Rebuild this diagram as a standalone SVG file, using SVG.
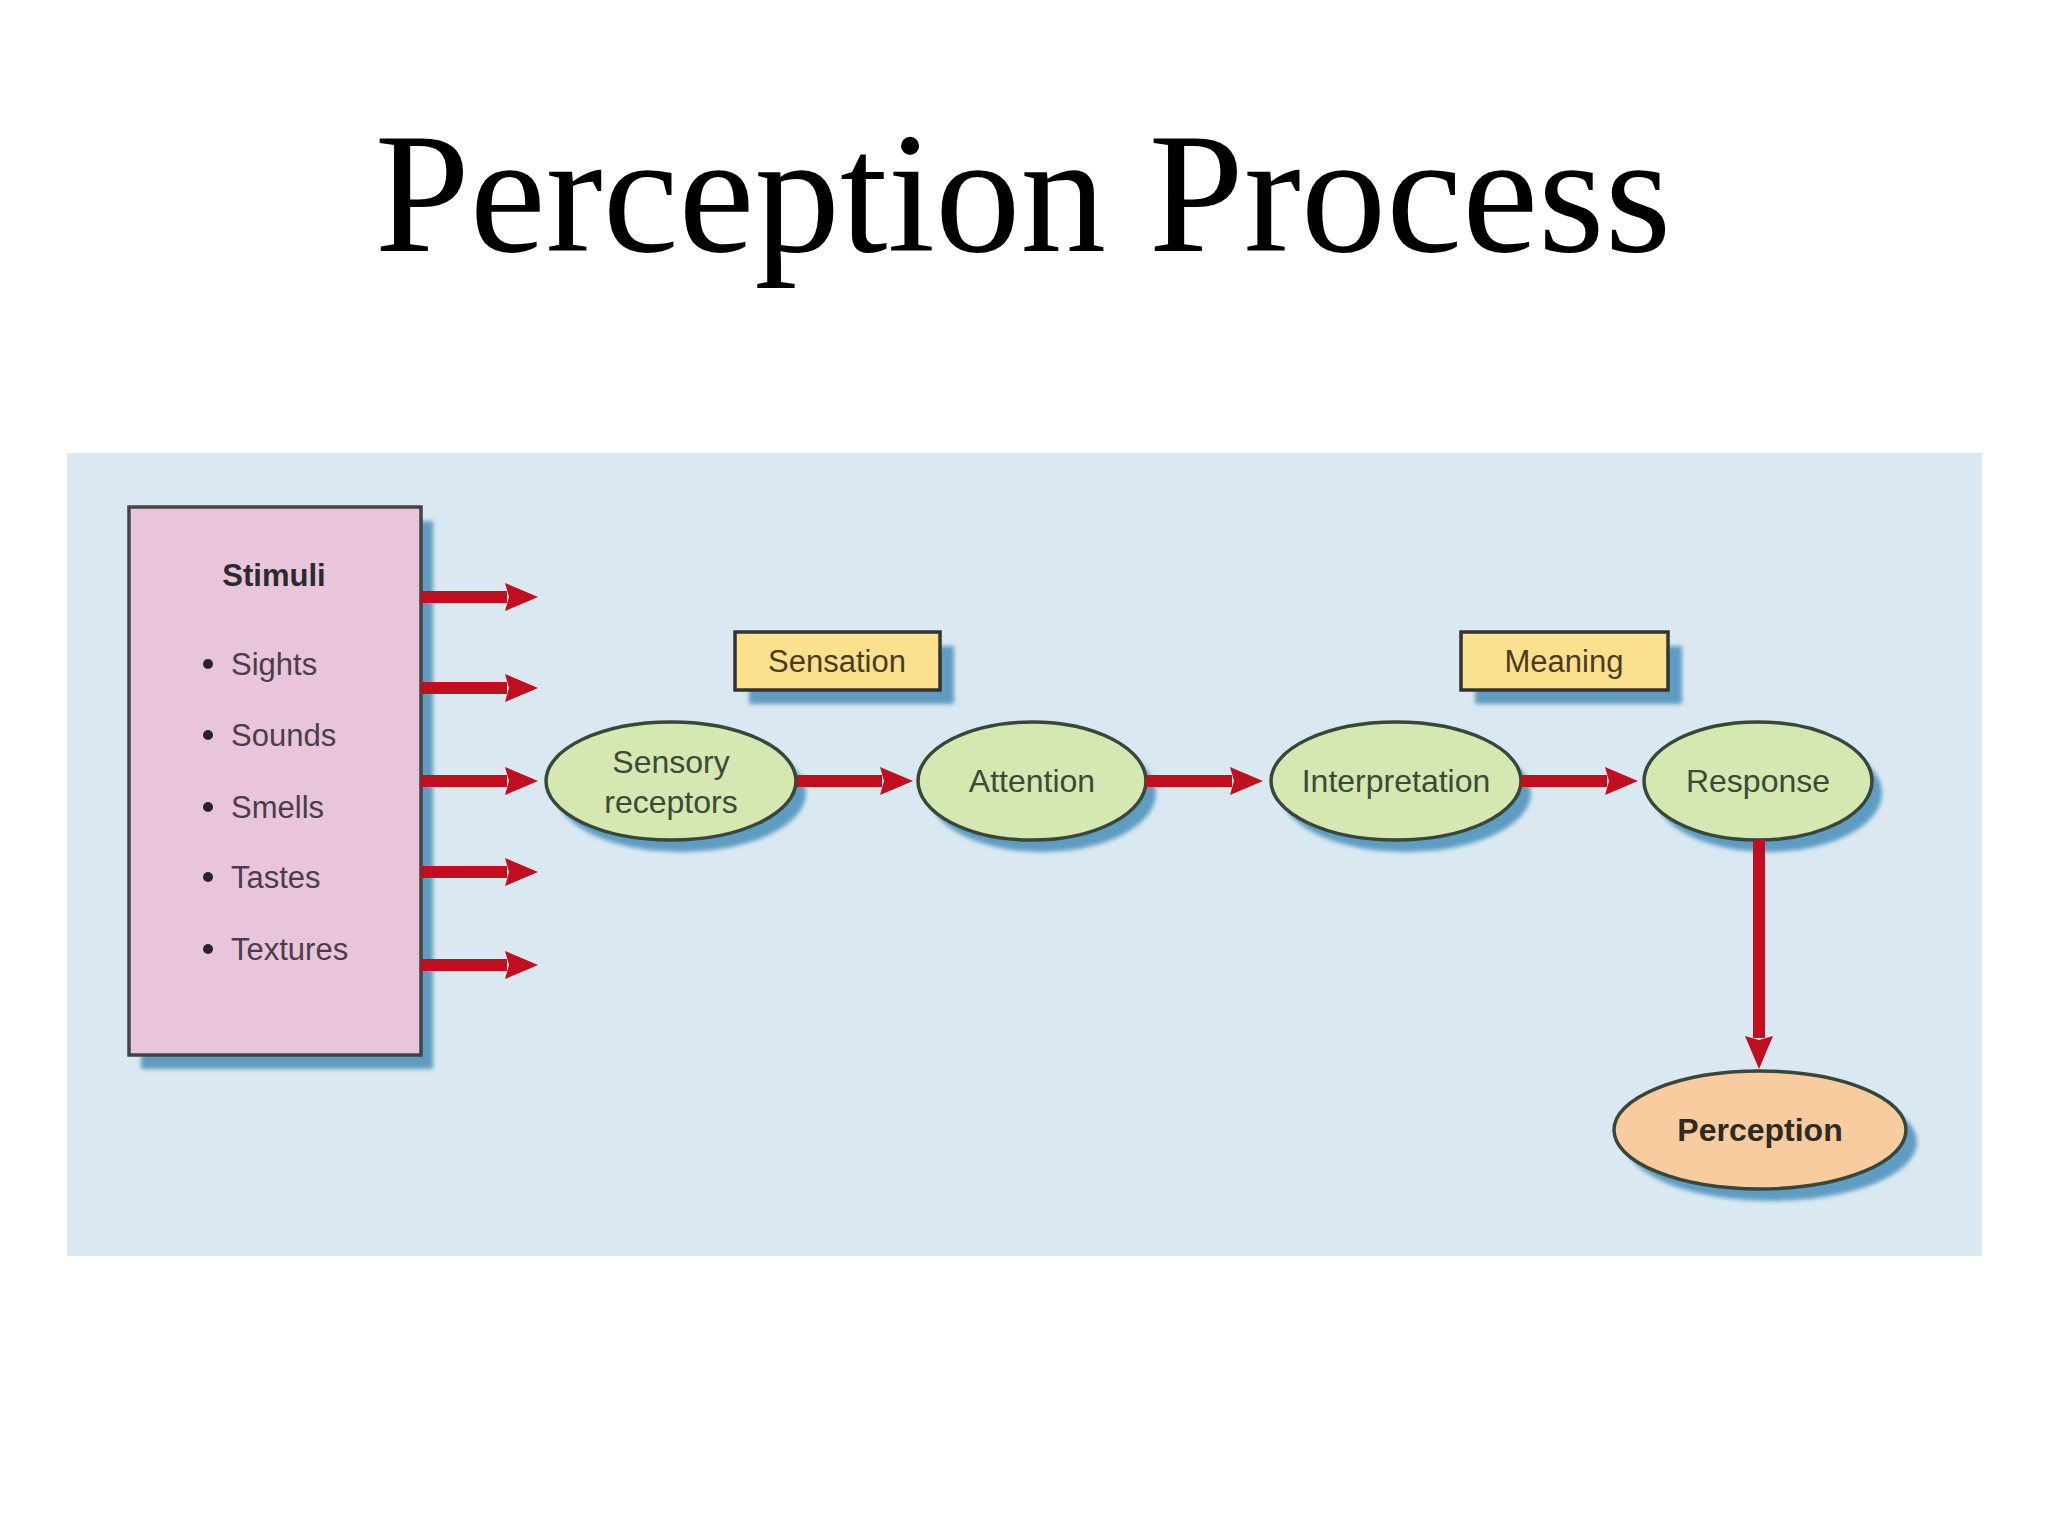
<svg xmlns="http://www.w3.org/2000/svg" width="2048" height="1536" viewBox="0 0 2048 1536">
<defs>
<style>
.title{font-family:"Liberation Serif","Times New Roman",serif;font-size:171px;fill:#000}
.lbl{font-family:"Liberation Sans",Arial,sans-serif;font-size:32px;text-anchor:middle}
.item{font-family:"Liberation Sans",Arial,sans-serif;font-size:31px;fill:#4b3d4a}
.node{fill:#d6e8b2;stroke:#39463a;stroke-width:3.5}
.shadow{fill:#5f9cc2;filter:url(#blur)}
.tag{fill:#fbe08e;stroke:#333;stroke-width:3.5}
.conn{stroke:#c20f1f;stroke-width:12;fill:none;marker-end:url(#ah)}
</style>
<filter id="blur" x="-10%" y="-10%" width="120%" height="120%"><feGaussianBlur stdDeviation="2"/></filter>
<marker id="ah" markerUnits="userSpaceOnUse" markerWidth="36" markerHeight="32" viewBox="-2 -15 36 30" refX="1" refY="0" orient="auto">
<path d="M-1,-14 L32,0 L-1,14 L3,0 z" fill="#c20f1f"/>
</marker>
</defs>
<rect width="2048" height="1536" fill="#fff"/>
<text class="title" x="1023" y="251" text-anchor="middle">Perception Process</text>
<rect id="panel" x="67" y="453" width="1915" height="803" fill="#dae9f1"/>

<g id="stimuli">
<rect class="shadow" x="141" y="521" width="292" height="548"/>
<rect x="129" y="507" width="292" height="548" fill="#e8c5da" stroke="#444" stroke-width="3.5"/>
<text class="lbl" x="274" y="586" style="font-weight:bold;font-size:31px;fill:#2b2a2d">Stimuli</text>
<g fill="#2a2228">
<circle cx="208" cy="664" r="5"/><circle cx="208" cy="735" r="5"/><circle cx="208" cy="807" r="5"/><circle cx="208" cy="877" r="5"/><circle cx="208" cy="949" r="5"/>
</g>
<text class="item" x="231" y="675">Sights</text>
<text class="item" x="231" y="746">Sounds</text>
<text class="item" x="231" y="818">Smells</text>
<text class="item" x="231" y="888">Tastes</text>
<text class="item" x="231" y="960">Textures</text>
</g>

<g id="sensation">
<rect class="shadow" x="749" y="646" width="205" height="58"/>
<rect class="tag" x="735" y="632" width="205" height="58"/>
<text class="lbl" x="837" y="672" style="font-size:31px;fill:#4a3c22">Sensation</text>
</g>
<g id="meaning">
<rect class="shadow" x="1475" y="646" width="207" height="58"/>
<rect class="tag" x="1461" y="632" width="207" height="58"/>
<text class="lbl" x="1564" y="672" style="font-size:31px;fill:#4a3c22">Meaning</text>
</g>

<g id="sensory-receptors">
<ellipse class="shadow" cx="681" cy="793" rx="125" ry="59"/>
<ellipse class="node" cx="671" cy="781" rx="125" ry="59"/>
<text class="lbl" x="671" y="773" fill="#3c4a36">Sensory</text>
<text class="lbl" x="671" y="813" fill="#3c4a36">receptors</text>
</g>
<g id="attention">
<ellipse class="shadow" cx="1042" cy="793" rx="114" ry="59"/>
<ellipse class="node" cx="1032" cy="781" rx="114" ry="59"/>
<text class="lbl" x="1032" y="792" fill="#3c4a36">Attention</text>
</g>
<g id="interpretation">
<ellipse class="shadow" cx="1406" cy="793" rx="125" ry="59"/>
<ellipse class="node" cx="1396" cy="781" rx="125" ry="59"/>
<text class="lbl" x="1396" y="792" fill="#3c4a36">Interpretation</text>
</g>
<g id="response">
<ellipse class="shadow" cx="1768" cy="793" rx="114" ry="59"/>
<ellipse class="node" cx="1758" cy="781" rx="114" ry="59"/>
<text class="lbl" x="1758" y="792" fill="#3c4a36">Response</text>
</g>
<g id="perception">
<ellipse class="shadow" cx="1771" cy="1142" rx="146" ry="59"/>
<ellipse cx="1760" cy="1130" rx="146" ry="59" fill="#f8cc9e" stroke="#39463a" stroke-width="3.5"/>
<text class="lbl" x="1760" y="1141" style="font-weight:bold;fill:#2e2a24">Perception</text>
</g>

<g id="connectors">
<line class="conn" x1="421" y1="597" x2="507" y2="597"/>
<line class="conn" x1="421" y1="688" x2="507" y2="688"/>
<line class="conn" x1="421" y1="781" x2="507" y2="781"/>
<line class="conn" x1="421" y1="872" x2="507" y2="872"/>
<line class="conn" x1="421" y1="965" x2="507" y2="965"/>
<line class="conn" x1="797" y1="781" x2="882" y2="781"/>
<line class="conn" x1="1146" y1="781" x2="1232" y2="781"/>
<line class="conn" x1="1521" y1="781" x2="1607" y2="781"/>
<line class="conn" x1="1759" y1="840" x2="1759" y2="1038"/>
</g>
</svg>
